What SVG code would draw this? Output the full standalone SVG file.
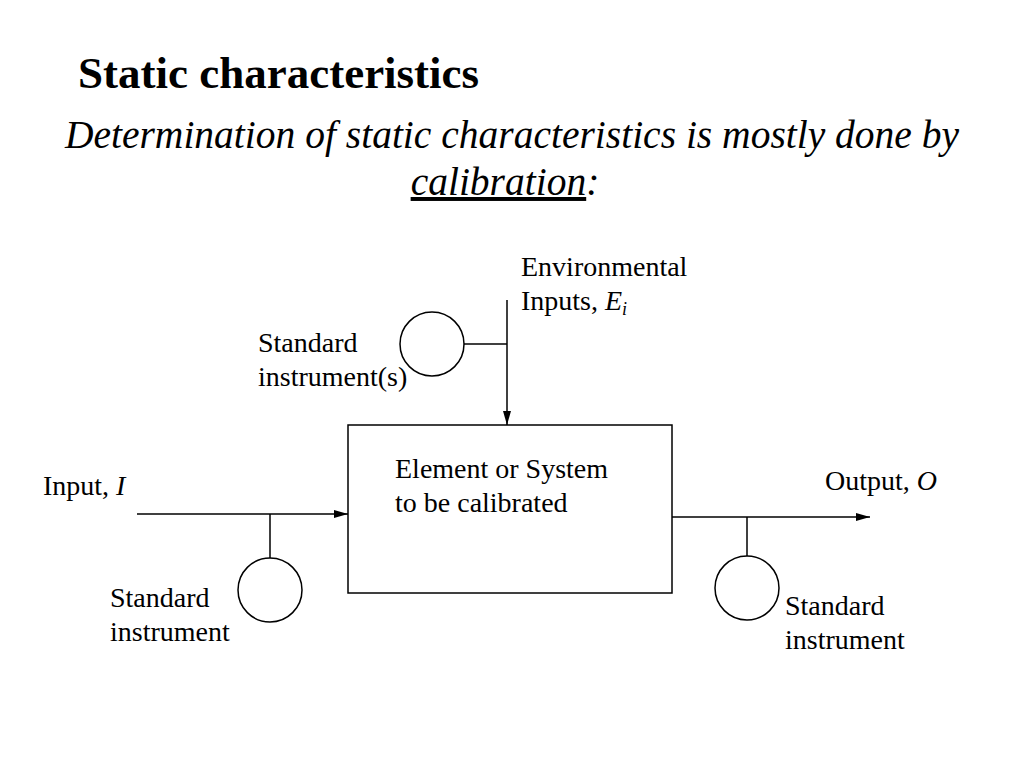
<svg xmlns="http://www.w3.org/2000/svg" width="1024" height="768" viewBox="0 0 1024 768">
<style>
text{font-family:"Liberation Serif","Times New Roman",serif;fill:#000}
.l{font-size:28px}
.s{stroke:#000;stroke-width:1.5;fill:none}
</style>
<defs><marker id="a" markerWidth="14" markerHeight="8" refX="14" refY="4" orient="auto" markerUnits="userSpaceOnUse"><path d="M0,0L14,4L0,8z" fill="#000"/></marker></defs>
<rect width="1024" height="768" fill="#fff"/>
<text x="78" y="88" font-size="45" font-weight="bold">Static characteristics</text>
<text x="512" y="148" font-size="39.5" font-style="italic" text-anchor="middle">Determination of static characteristics is mostly done  by</text>
<text x="505" y="195" font-size="39.5" font-style="italic" text-anchor="middle"><tspan text-decoration="underline">calibration</tspan>:</text>
<g id="box"><rect class="s" x="348" y="425" width="324" height="168"/>
<text class="l" x="395" y="478">Element or System</text><text class="l" x="395" y="512">to be calibrated</text></g>
<g id="std_env"><circle class="s" cx="432" cy="344" r="32"/><text class="l" x="258" y="352">Standard</text><text class="l" x="258" y="386">instrument(s)</text></g>
<g id="std_in"><circle class="s" cx="270" cy="590" r="32"/><text class="l" x="110" y="607">Standard</text><text class="l" x="110" y="641">instrument</text></g>
<g id="std_out"><circle class="s" cx="747" cy="588" r="32"/><text class="l" x="785" y="615">Standard</text><text class="l" x="785" y="649">instrument</text></g>
<g id="labels">
<text class="l" x="521" y="276">Environmental</text>
<text class="l" x="521" y="310">Inputs, <tspan font-style="italic">E</tspan><tspan font-style="italic" font-size="18" dy="5">i</tspan></text>
<text class="l" x="43" y="495">Input, <tspan font-style="italic">I</tspan></text>
<text class="l" x="825" y="490">Output, <tspan font-style="italic">O</tspan></text>
</g>
<g id="connectors">
<line class="s" x1="507" y1="300" x2="507" y2="425" marker-end="url(#a)"/>
<line class="s" x1="464" y1="344" x2="507" y2="344"/>
<line class="s" x1="137" y1="514" x2="348" y2="514" marker-end="url(#a)"/>
<line class="s" x1="270" y1="514" x2="270" y2="558"/>
<line class="s" x1="672" y1="517" x2="870" y2="517" marker-end="url(#a)"/>
<line class="s" x1="747" y1="517" x2="747" y2="556"/>
</g>
</svg>
